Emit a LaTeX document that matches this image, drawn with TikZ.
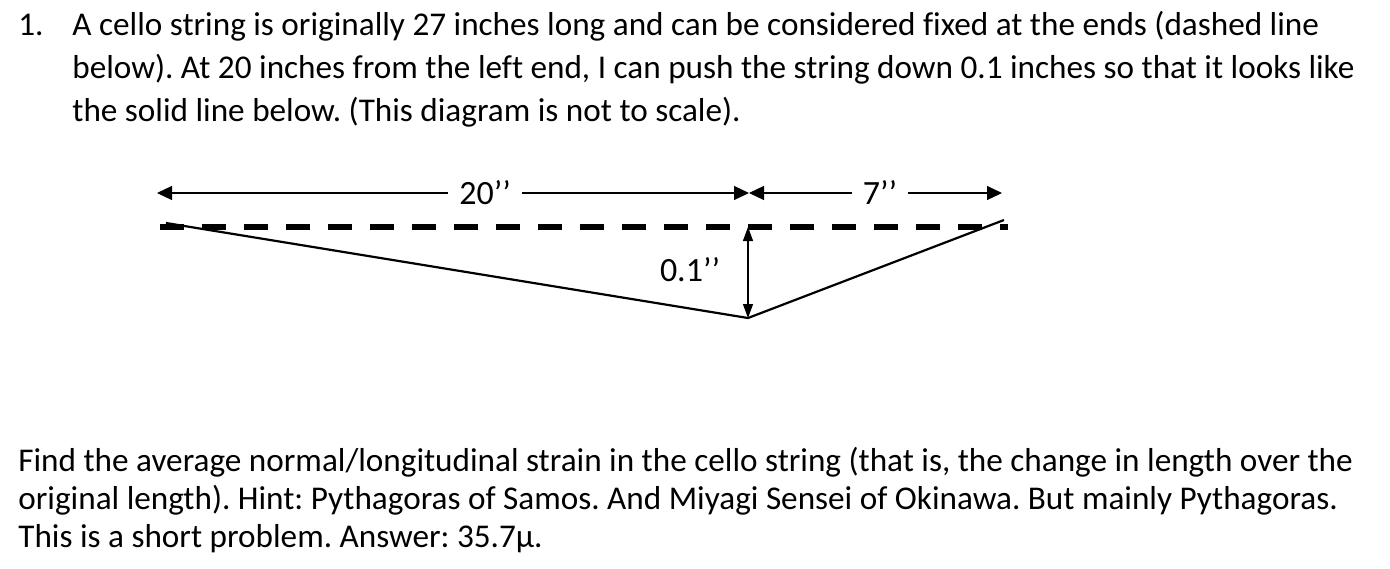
\documentclass[tikz,border=0pt]{standalone}
\usepackage{fontspec}
\setmainfont{Carlito}[Ligatures=NoCommon]
\usepackage{tikz}
\usetikzlibrary{positioning,arrows.meta}
\tikzstyle{txt} = [anchor=base west, inner sep=0pt, font=\fontsize{16.6}{20}\selectfont]
\tikzstyle{dimline} = [line width=0.6pt, {Triangle[length=7.5pt,width=7pt]}-{Triangle[length=7.5pt,width=7pt]}]
\tikzstyle{dimlbl} = [fill=white, inner xsep=5.5pt, inner ysep=2pt, font=\fontsize{17}{20}\selectfont]

\begin{document}
\frenchspacing
\begin{tikzpicture}[x=0.5pt,y=-0.5pt]
\useasboundingbox (0,0) rectangle (1390,568);
% question text
\node[txt] (num) at (18,35) {1.};
\node[txt] (q1) at (72,35) {A cello string is originally 27 inches long and can be considered fixed at the ends (dashed line};
\node[txt] (q2) at (72,78) {below). At 20 inches from the left end, I can push the string down 0.1 inches so that it looks like};
\node[txt] (q3) at (72,121) {the solid line below. (This diagram is not to scale).};
% string
\coordinate (leftend) at (160,227);
\coordinate (press) at (748,227);
\coordinate (rightend) at (1008,227);
\coordinate (leftfix) at (166,223);
\coordinate (bottom) at (748,318);
\coordinate (rightfix) at (1004,220);
\draw[line width=3pt, dash pattern=on 12pt off 9pt] (leftend) -- (rightend);
\draw[line width=1.1pt] (leftfix) -- (bottom) -- (rightfix);
% dimensions
\coordinate (dimL) at (157,193);
\coordinate (dimM) at (749,193);
\coordinate (dimR) at (1002,193);
\draw[dimline] (dimL) -- (dimM);
\draw[dimline] (dimM) -- (dimR);
\node[dimlbl] (lab20) at (485,193) {20’’};
\node[dimlbl] (lab7) at (880,193) {7’’};
\draw[line width=0.6pt, {Triangle[length=7pt,width=5pt]}-{Triangle[length=7pt,width=5pt]}] (press) -- (bottom);
\node[font=\fontsize{17}{20}\selectfont] (lab01) at (690,270) {0.1’’};
% question
\node[txt] (f1) at (18,471) {Find the average normal/longitudinal strain in the cello string (that is, the change in length over the};
\node[txt] (f2) at (18,509) {original length). Hint: Pythagoras of Samos. And Miyagi Sensei of Okinawa. But mainly Pythagoras.};
\node[txt] (f3) at (18,547) {This is a short problem. Answer: 35.7µ.};
\end{tikzpicture}
\end{document}
